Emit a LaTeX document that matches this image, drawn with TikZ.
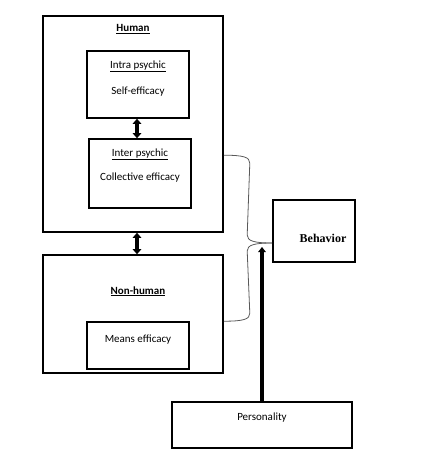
\documentclass[tikz,border=0pt]{standalone}
\usepackage{fontspec}
\setmainfont{Carlito}
\newfontfamily\timesfont{Liberation Serif}
\usetikzlibrary{calc}
\usetikzlibrary{arrows.meta}

\begin{document}
\begin{tikzpicture}[x=1pt,y=-1pt,font=\fontsize{11}{13}\selectfont]
\useasboundingbox (0,0) rectangle (428,459);

% Outer boxes
\node[draw, line width=1.6pt, rectangle, minimum width=180pt, minimum height=216pt] (human) at (133,124) {};
\node[draw, line width=1.6pt, rectangle, minimum width=180pt, minimum height=118pt] (nonhuman) at (133,314) {};

% Inner boxes
\node[draw, line width=1.6pt, rectangle, minimum width=102pt, minimum height=67pt] (intra) at (138,84.5) {};
\node[draw, line width=1.6pt, rectangle, minimum width=102pt, minimum height=69pt] (inter) at (140,173.5) {};
\node[draw, line width=1.6pt, rectangle, minimum width=102pt, minimum height=47pt] (means) at (138,345.5) {};

% Right boxes
\node[draw, line width=1.6pt, rectangle, minimum width=82pt, minimum height=62pt] (behavior) at (314,231) {};
\node[draw, line width=1.6pt, rectangle, minimum width=180pt, minimum height=46pt] (personality) at (262,425) {};

% Labels
\node at ($(human.north)+(0,14)$) {\textbf{\underline{Human}}};
\node at ($(intra.north)+(0,16)$) {\underline{Intra psychic}};
\node at ($(intra.north)+(0,41)$) {Self-efficacy};
\node at ($(inter.north)+(0,16)$) {\underline{Inter psychic}};
\node at ($(inter.north)+(0,39)$) {Collective efficacy};
\node at ($(nonhuman.north)+(5,37)$) {\textbf{\underline{Non-human}}};
\node at ($(means.north)+(0,18)$) {Means efficacy};
\node (behaviortext) at ($(behavior.center)+(9,7)$) {\timesfont\fontsize{12}{14}\selectfont\textbf{Behavior}};
\node at ($(personality.north)+(0,16)$) {Personality};

% Double arrows
\draw[line width=3.2pt, {Triangle[width=8.5pt,length=5pt]}-{Triangle[width=8.5pt,length=5pt]}] ($(intra.south)+(-1,0)$) -- ($(inter.north)+(-3,0)$);
\draw[line width=3.2pt, {Triangle[width=8.5pt,length=5pt]}-{Triangle[width=8.5pt,length=5pt]}] ($(human.south)+(4,0)$) -- ($(nonhuman.north)+(4,0)$);

% Brace to behavior
\coordinate (bracetop) at ($(human.north east)+(0,140)$);
\coordinate (bracebot) at ($(nonhuman.north east)+(0,67)$);
\coordinate (bracetip) at ($(behavior.west)+(0,12)$);
\draw[gray!70!black, line width=0.8pt] (bracetop) .. controls ($(bracetop)+(20,0)$) and ($(bracetop)+(26,2)$) .. ($(bracetop)+(26,8)$)
  -- ($(bracetip)+(-25,-8)$) .. controls ($(bracetip)+(-25,-2)$) and ($(bracetip)+(-18,0)$) .. (bracetip);
\draw[gray!70!black, line width=0.8pt] (bracebot) .. controls ($(bracebot)+(20,0)$) and ($(bracebot)+(26,-2)$) .. ($(bracebot)+(26,-8)$)
  -- ($(bracetip)+(-25,8)$) .. controls ($(bracetip)+(-25,2)$) and ($(bracetip)+(-18,0)$) .. (bracetip);

% Personality arrow
\coordinate (arrowtip) at ($(bracetip)+(-11,4)$);
\draw[line width=3.2pt, -{Triangle[width=7.5pt,length=5pt]}] (personality.north) -- (personality.north |- arrowtip);
\end{tikzpicture}
\end{document}
